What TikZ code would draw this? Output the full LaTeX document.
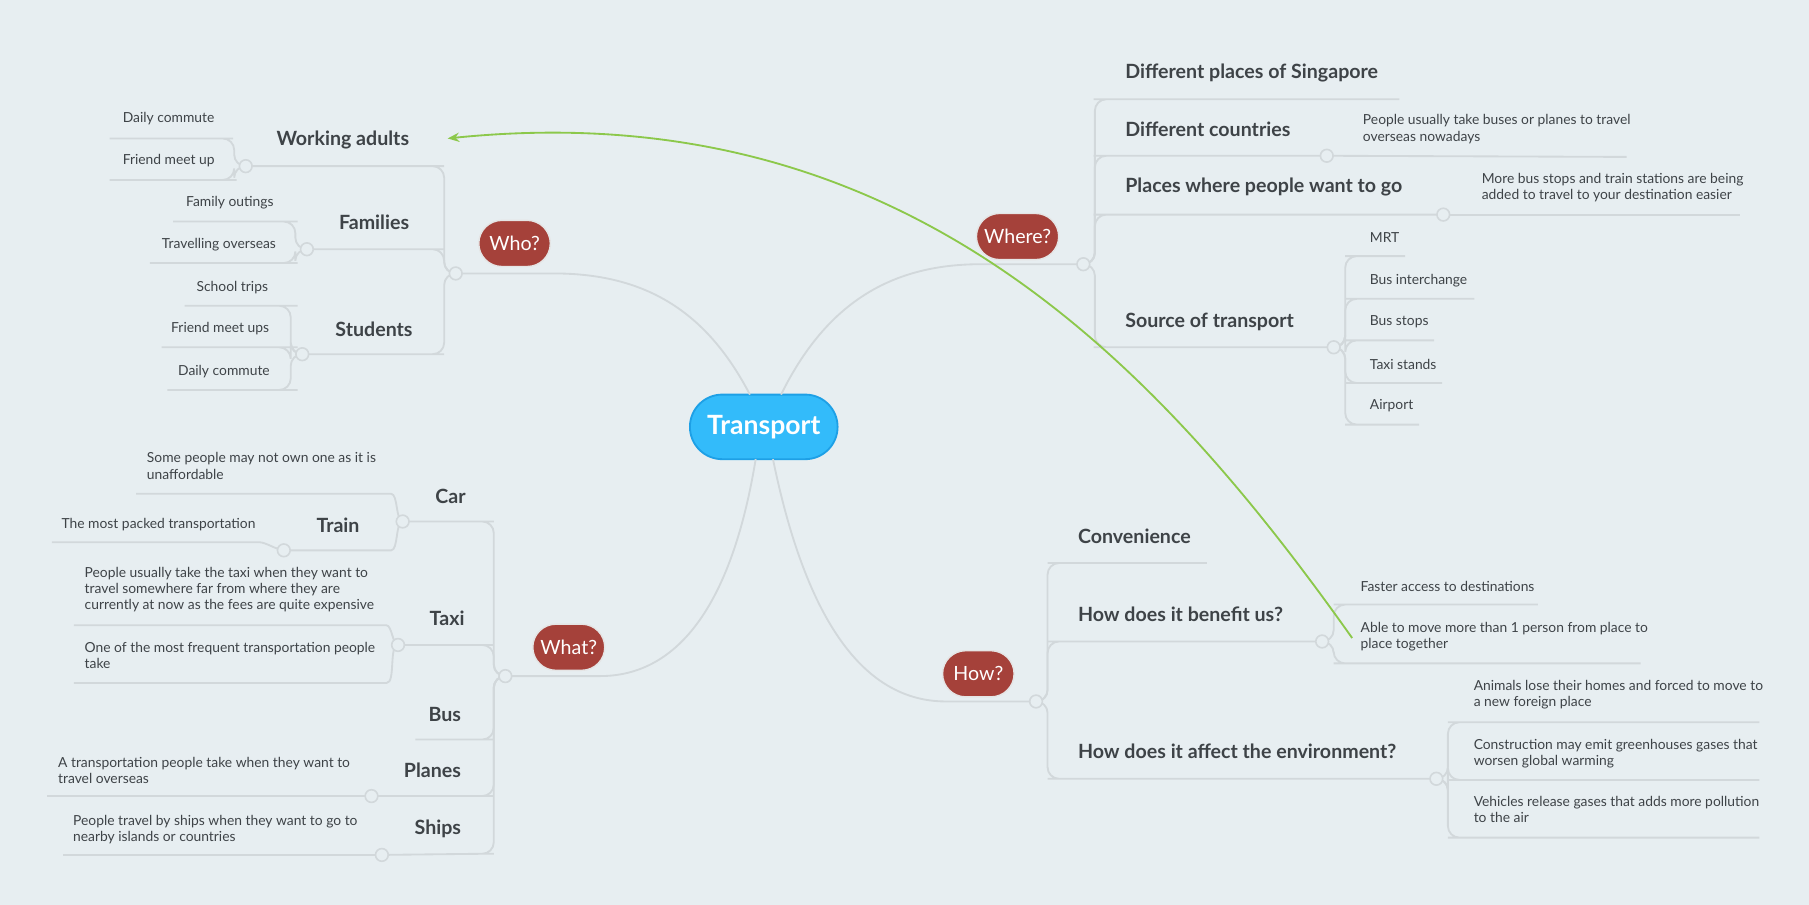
\documentclass[tikz,border=0pt]{standalone}
\usepackage{fontspec}
\setmainfont{Lato}
\usetikzlibrary{arrows.meta}
\definecolor{bg}{HTML}{E7EEF1}
\definecolor{ln}{HTML}{D2D8DB}
\definecolor{tx}{HTML}{3E4347}
\definecolor{red}{HTML}{A5413A}
\definecolor{cb}{HTML}{33BBFA}
\definecolor{cbd}{HTML}{1EA0E6}
\definecolor{gr}{HTML}{8CC84B}
\tikzset{
 conn/.style={draw=ln,line width=0.8pt},
 tl/.style={rounded corners=5pt,to path={-- ++(-10,0) |- (\tikztotarget)}},
 tr/.style={rounded corners=5pt,to path={-- ++(10,0) |- (\tikztotarget)}},
 dot/.style={circle,draw=ln,fill=bg,line width=0.7pt,minimum size=5.5pt,inner sep=0pt},
 topic/.style={font=\fontsize{8.5}{10}\selectfont\bfseries,text=tx,inner sep=0pt},
 leaf/.style={font=\fontsize{6}{7}\selectfont,text=tx,inner sep=0pt,align=left},
 redbox/.style={fill=red,draw=white!80!gray,line width=0.6pt,rounded corners=10pt,minimum width=31pt,minimum height=20pt,text=white,font=\fontsize{8.5}{10}\selectfont},
 central/.style={fill=cb,draw=cbd,line width=0.8pt,rounded corners=14pt,minimum width=64pt,minimum height=28pt,text=white,font=\fontsize{11.5}{13}\selectfont\bfseries}
}
\begin{document}
\begin{tikzpicture}[x=0.5pt,y=-0.5pt]
\fill[bg] (0,0) rectangle (1568,784);
\useasboundingbox (0,0) rectangle (1568,784);

\node[central] (T) at (662,370) {Transport};
\coordinate (Tnw) at (650,342);
\coordinate (Tne) at (677,342);
\coordinate (Tsw) at (655,398);
\coordinate (Tse) at (670,398);

% ===== WHO =====
\coordinate (W) at (395,237);
\draw[conn] (Tnw) .. controls (615,275) and (565,237) .. (480,237) -- (W);
\node[redbox] (who) at (446,211) {Who?};
\coordinate (waR) at (375,144); \coordinate (waD) at (213,144);
\draw[conn] (W) to[tl] (waR) -- (waD);
\node[topic,anchor=east] (wa) at (355,121) {Working adults};
\coordinate (dc1R) at (192,120); \coordinate (dc1L) at (95,120);
\coordinate (fm1R) at (195,156); \coordinate (fm1L) at (95,156);
\draw[conn] (waD) to[tl] (dc1R) -- (dc1L);
\draw[conn] (waD) to[tl] (fm1R) -- (fm1L);
\node[leaf,anchor=west] (dc1) at (106,103) {Daily commute};
\node[leaf,anchor=west] (fm1) at (106,139) {Friend meet up};
\coordinate (faR) at (375,216); \coordinate (faD) at (266,216);
\draw[conn] (W) to[tl] (faR) -- (faD);
\node[topic,anchor=east] (fa) at (355,193) {Families};
\coordinate (foR) at (248,192); \coordinate (foL) at (150,192);
\coordinate (toR) at (248,228); \coordinate (toL) at (130,228);
\draw[conn] (faD) to[tl] (foR) -- (foL);
\draw[conn] (faD) to[tl] (toR) -- (toL);
\node[leaf,anchor=west] (fo) at (161,176) {Family outings};
\node[leaf,anchor=west] (to) at (140,212) {Travelling overseas};
\coordinate (stR) at (375,307); \coordinate (stD) at (262,307);
\draw[conn] (W) to[tl] (stR) -- (stD);
\node[topic,anchor=east] (st) at (358,285) {Students};
\coordinate (sc1R) at (248,265); \coordinate (sc1L) at (160,265);
\coordinate (fm2R) at (248,301); \coordinate (fm2L) at (140,301);
\coordinate (dc2R) at (248,338); \coordinate (dc2L) at (145,338);
\draw[conn] (stD) to[tl] (sc1R) -- (sc1L);
\draw[conn] (stD) to[tl] (fm2R) -- (fm2L);
\draw[conn] (stD) to[tl] (dc2R) -- (dc2L);
\node[leaf,anchor=west] (sc1) at (170,249) {School trips};
\node[leaf,anchor=west] (fm2) at (148,285) {Friend meet ups};
\node[leaf,anchor=west] (dc2) at (154,322) {Daily commute};
\node[dot] at (W) {}; \node[dot] at (waD) {}; \node[dot] at (faD) {}; \node[dot] at (stD) {};

% ===== WHERE =====
\coordinate (R) at (939,229);
\draw[conn] (Tne) .. controls (715,265) and (770,229) .. (850,229) -- (R);
\node[redbox] (where) at (882,205) {Where?};
\coordinate (p1L) at (958,86); \coordinate (p1R) at (1213,86);
\draw[conn] (R) to[tr] (p1L) -- (p1R);
\node[topic,anchor=west] (p1) at (975,63) {Different places of Singapore};
\coordinate (p2L) at (958,135); \coordinate (p2D) at (1150,135);
\draw[conn] (R) to[tr] (p2L) -- (p2D);
\node[topic,anchor=west] (p2) at (975,112) {Different countries};
\coordinate (p2cR) at (1410,136);
\draw[conn] (p2D) -- (p2cR);
\node[leaf,anchor=north west] (p2c) at (1181,99) {People usually take buses or planes to travel\\overseas nowadays};
\coordinate (p3L) at (958,186); \coordinate (p3D) at (1251,186);
\draw[conn] (R) to[tr] (p3L) -- (p3D);
\node[topic,anchor=west] (p3) at (975,162) {Places where people want to go};
\coordinate (p3cR) at (1508,186);
\draw[conn] (p3D) -- (p3cR);
\node[leaf,anchor=north west] (p3c) at (1284,150) {More bus stops and train stations are being\\added to travel to your destination easier};
\coordinate (p4L) at (958,301); \coordinate (p4D) at (1156,301);
\draw[conn] (R) to[tr] (p4L) -- (p4D);
\node[topic,anchor=west] (p4) at (975,279) {Source of transport};
\foreach \n/\y/\r/\t in {m1/222/1218/MRT, m2/259/1278/Bus interchange, m3/295/1243/Bus stops, m4/332/1250/Taxi stands, m5/368/1230/Airport}{
  \coordinate (\n L) at (1176,\y); \coordinate (\n R) at (\r,\y);
  \draw[conn] (p4D) to[tr] (\n L) -- (\n R);
  \node[leaf,anchor=west] (\n) at (1187,\y-16) {\t};
}
\node[dot] at (R) {}; \node[dot] at (p2D) {}; \node[dot] at (p3D) {}; \node[dot] at (p4D) {};

% ===== HOW =====
\coordinate (H) at (898,608);
\draw[conn] (Tse) .. controls (695,520) and (740,608) .. (820,608) -- (H);
\node[redbox] (how) at (848,584) {How?};
\coordinate (h1L) at (918,488); \coordinate (h1R) at (1046,488);
\draw[conn] (H) to[tr] (h1L) -- (h1R);
\node[topic,anchor=west] (h1) at (934,465) {Convenience};
\coordinate (h2L) at (918,556); \coordinate (h2D) at (1146,556);
\draw[conn] (H) to[tr] (h2L) -- (h2D);
\node[topic,anchor=west] (h2) at (934,532) {How does it benefit us?};
\coordinate (b1L) at (1166,524); \coordinate (b1R) at (1333,524);
\coordinate (b2L) at (1166,575); \coordinate (b2R) at (1422,575);
\draw[conn] (h2D) to[tr] (b1L) -- (b1R);
\draw[conn] (h2D) to[tr] (b2L) -- (b2R);
\node[leaf,anchor=west] (b1) at (1179,508) {Faster access to destinations};
\node[leaf,anchor=north west] (b2) at (1179,539) {Able to move more than 1 person from place to\\place together};
\coordinate (h3L) at (918,675); \coordinate (h3D) at (1245,675);
\draw[conn] (H) to[tr] (h3L) -- (h3D);
\node[topic,anchor=west] (h3) at (934,651) {How does it affect the environment?};
\coordinate (e1L) at (1265,626); \coordinate (e1R) at (1525,626);
\coordinate (e2L) at (1265,676); \coordinate (e2R) at (1525,676);
\coordinate (e3L) at (1265,726); \coordinate (e3R) at (1525,726);
\draw[conn] (h3D) to[tr] (e1L) -- (e1R);
\draw[conn] (h3D) to[tr] (e2L) -- (e2R);
\draw[conn] (h3D) to[tr] (e3L) -- (e3R);
\node[leaf,anchor=north west] (e1) at (1277,589) {Animals lose their homes and forced to move to\\a new foreign place};
\node[leaf,anchor=north west] (e2) at (1277,640) {Construction may emit greenhouses gases that\\worsen global warming};
\node[leaf,anchor=north west] (e3) at (1277,690) {Vehicles release gases that adds more pollution\\to the air};
\node[dot] at (H) {}; \node[dot] at (h2D) {}; \node[dot] at (h3D) {};

% ===== WHAT =====
\coordinate (A) at (438,586);
\draw[conn] (Tsw) .. controls (635,520) and (590,586) .. (520,586) -- (A);
\node[redbox] (what) at (493,561) {What?};
\coordinate (caR) at (418,452); \coordinate (caD) at (349,452);
\draw[conn] (A) to[tl] (caR) -- (caD);
\node[topic,anchor=east] (ca) at (404,430) {Car};
\coordinate (c1R) at (339,428); \coordinate (c1L) at (118,428);
\draw[conn] (caD) to[out=180,in=0,looseness=0.6] (c1R) -- (c1L);
\node[leaf,anchor=north west] (c1) at (127,392) {Some people may not own one as it is\\unaffordable};
\coordinate (trR) at (339,477); \coordinate (trD) at (246,477);
\draw[conn] (caD) to[out=180,in=0,looseness=0.6] (trR) -- (trD);
\node[topic,anchor=east] (tr) at (312,455) {Train};
\coordinate (t1R) at (225,470); \coordinate (t1L) at (45,470);
\draw[conn] (trD) to[out=180,in=0,looseness=0.6] (t1R) -- (t1L);
\node[leaf,anchor=west] (t1) at (53,455) {The most packed transportation};
\coordinate (taR) at (418,559); \coordinate (taD) at (345,559);
\draw[conn] (A) to[tl] (taR) -- (taD);
\node[topic,anchor=east] (ta) at (403,536) {Taxi};
\coordinate (x1R) at (335,542); \coordinate (x1L) at (64,542);
\coordinate (x2R) at (335,592); \coordinate (x2L) at (64,592);
\draw[conn] (taD) to[out=180,in=0,looseness=0.6] (x1R) -- (x1L);
\draw[conn] (taD) to[out=180,in=0,looseness=0.6] (x2R) -- (x2L);
\node[leaf,anchor=north west] (x1) at (73,491) {People usually take the taxi when they want to\\travel somewhere far from where they are\\currently at now as the fees are quite expensive};
\node[leaf,anchor=north west] (x2) at (73,556) {One of the most frequent transportation people\\take};
\coordinate (buR) at (418,641); \coordinate (buL) at (360,641);
\draw[conn] (A) to[tl] (buR) -- (buL);
\node[topic,anchor=east] (bu) at (400,619) {Bus};
\coordinate (plR) at (418,690); \coordinate (plD) at (322,690);
\draw[conn] (A) to[tl] (plR) -- (plD);
\node[topic,anchor=east] (pl) at (400,668) {Planes};
\coordinate (pl1L) at (41,690);
\draw[conn] (plD) -- (pl1L);
\node[leaf,anchor=north west] (pl1) at (50,656) {A transportation people take when they want to\\travel overseas};
\coordinate (shR) at (418,740); \coordinate (shD) at (331,741);
\draw[conn] (A) to[tl] (shR) -- (shD);
\node[topic,anchor=east] (sh) at (400,718) {Ships};
\coordinate (sh1L) at (55,741);
\draw[conn] (shD) -- (sh1L);
\node[leaf,anchor=north west] (sh1) at (63,706) {People travel by ships when they want to go to\\nearby islands or countries};
\node[dot] at (A) {}; \node[dot] at (caD) {}; \node[dot] at (trD) {}; \node[dot] at (taD) {}; \node[dot] at (plD) {}; \node[dot] at (shD) {};

% ===== relationship =====
\coordinate (gS) at (1172,553);
\coordinate (gE) at (388,120);
\draw[gr,line width=0.8pt,-{Stealth[length=5pt,width=4pt]}] (gS) .. controls (1000,310) and (780,80) .. (gE);
\end{tikzpicture}
\end{document}
